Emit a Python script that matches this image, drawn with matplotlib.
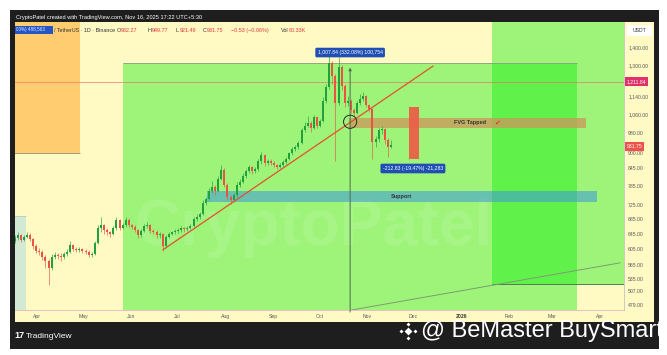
import datetime as dt
import numpy as np
import matplotlib
matplotlib.use("Agg")
import matplotlib.pyplot as plt
import matplotlib.dates as mdates
from matplotlib.patches import Rectangle
from matplotlib.ticker import NullLocator

plt.rcParams['font.family'] = ['Liberation Sans', 'DejaVu Sans']

W, H = 667, 355

# ---------------- data (BNB / TetherUS, 2-day candles) ----------------
candle_start = dt.datetime(2025, 3, 17, 12)
candle_step_days = 2
first_open = 625.0
closes = [632, 640, 628, 636, 642, 630, 612, 600, 598, 585,
          575, 560, 585, 590, 588, 584, 592, 598, 615, 606,
          603, 604, 600, 598, 590, 593, 620, 660, 668, 655,
          648, 643, 660, 683, 660, 668, 683, 668, 663, 655,
          640, 652, 665, 669, 652, 650, 640, 643, 612, 637,
          645, 648, 652, 655, 660, 656, 660, 666, 685, 692,
          700, 733, 745, 770, 783, 770, 810, 840, 790, 750,
          742, 757, 790, 800, 820, 835, 850, 835, 842, 870,
          893, 864, 872, 864, 858, 850, 858, 868, 880, 900,
          917, 925, 940, 990, 1010, 1020, 1000, 1045, 1010, 1030,
          1120, 1185, 1310, 1240, 1110, 1290, 1190, 1110, 1120, 1077,
          1065, 1110, 1130, 1140, 1100, 1080, 945, 955, 990, 995,
          950, 923, 931.75]
highs = [640, 648, 645, 641, 650, 646, 634, 618, 608, 602,
         590, 580, 592, 598, 596, 594, 598, 605, 625, 618,
         610, 610, 608, 605, 602, 598, 625, 668, 692, 672,
         660, 652, 666, 690, 686, 675, 692, 688, 672, 667,
         658, 657, 670, 676, 672, 658, 654, 648, 646, 642,
         650, 653, 657, 660, 665, 664, 666, 672, 690, 698,
         706, 740, 752, 778, 802, 790, 818, 858, 845, 795,
         756, 764, 798, 808, 828, 842, 858, 855, 850, 878,
         905, 896, 880, 878, 870, 862, 864, 874, 886, 906,
         924, 932, 948, 1000, 1025, 1050, 1030, 1055, 1050, 1040,
         1135, 1200, 1350, 1320, 1250, 1345, 1300, 1200, 1140, 1128,
         1085, 1120, 1150, 1160, 1148, 1105, 1085, 968, 1000, 1010,
         1000, 958, 949.77]
lows = [620, 628, 622, 624, 632, 625, 606, 594, 590, 578,
        560, 520, 555, 580, 580, 576, 580, 588, 594, 600,
        597, 598, 594, 592, 585, 586, 590, 618, 650, 645,
        640, 636, 640, 655, 654, 656, 664, 662, 656, 648,
        634, 636, 648, 660, 646, 644, 634, 632, 600, 608,
        632, 640, 644, 647, 650, 650, 652, 656, 662, 680,
        686, 696, 726, 740, 762, 758, 765, 805, 782, 742,
        728, 736, 752, 784, 795, 812, 828, 826, 828, 836,
        862, 855, 856, 856, 850, 842, 845, 852, 862, 874,
        894, 910, 918, 935, 982, 1002, 985, 995, 1000, 1002,
        1025, 1110, 1175, 1200, 870, 1100, 1170, 1090, 1095, 1065,
        1050, 1058, 1100, 1120, 1090, 1070, 880, 925, 945, 975,
        935, 887, 921.49]

price_ticks = [1400, 1300, 1140, 1060, 980, 900, 845, 785, 725, 685,
               645, 605, 565, 535, 507, 479]
month_starts = ["2025-04-01", "2025-05-01", "2025-06-01", "2025-07-01",
                "2025-08-01", "2025-09-01", "2025-10-01", "2025-11-01",
                "2025-12-01", "2026-01-01", "2026-02-01", "2026-03-01",
                "2026-04-01"]
month_labels = ["Apr", "May", "Jun", "Jul", "Aug", "Sep", "Oct", "Nov",
                "Dec", "2026", "Feb", "Mar", "Apr"]

level_price = 1211.84
last_price = 931.75
x_range = ("2025-03-17 18:00", "2026-04-16 13:00")
y_range = (469.4, 1553)

# drawn zones: (x0, x1, p0, p1)
orange_zone = ("2025-03-01", "2025-04-28 21:00", 901, 3000)
teal_strip = ("2025-03-01", "2025-03-24 22:00", 300, 694)
green_zone_a = ("2025-05-26 18:00", "2026-03-17 02:00", 300, 1310)
green_zone_c = ("2026-01-20 17:00", "2026-06-01", 523, 3000)
fvg_zone = ("2025-10-20 07:00", "2026-03-23", 1000, 1042)
red_block = ("2025-11-28 05:00", "2025-12-04 14:00", 880, 1090)
support_zone = ("2025-07-20", "2026-03-30", 736, 768)
trend_line = (("2025-06-21 17:00", 603), ("2025-12-13 17:00", 1293))
lower_line = (("2025-10-22", 469.4), ("2026-04-14", 571))
measure_date = "2025-10-21"
measure_top = 1300
circle_price = 1026
top_label = ("1,007.84 (332.08%) 100,754", "2025-10-21", 1368)
bottom_label = ("-212.83 (-19.47%) -21,283", "2025-11-30 17:00", 845)
fvg_text = ("FVG Tapped", "2026-01-07", 1021)
check_pos = ("2026-01-24", 1024)
support_text = ("Support", "2025-11-23", 752)


def d(s):
    return mdates.date2num(dt.datetime.fromisoformat(s))


# ---------------- figure ----------------
fig = plt.figure(figsize=(W / 100, H / 100), dpi=100)
fig.patch.set_facecolor("white")

bg = fig.add_axes([0, 0, 1, 1])
bg.set_xlim(0, W); bg.set_ylim(H, 0); bg.axis("off"); bg.set_zorder(0)
bg.add_patch(Rectangle((10, 10), 649, 339, fc="#1e1e1e", ec="none"))
bg.add_patch(Rectangle((15, 22), 639, 300, fc="#fff9c4", ec="none"))

ax = fig.add_axes([15 / W, (H - 310) / H, 609 / W, 288 / H])
ax.set_zorder(2)
ax.set_facecolor("#fff9c4")
ax.set_yscale("log")
ax.set_xlim(d(x_range[0]), d(x_range[1]))
ax.set_ylim(*y_range)

# zones
def zone(z, **kw):
    x0, x1 = d(z[0]), d(z[1])
    ax.add_patch(Rectangle((x0, z[2]), x1 - x0, z[3] - z[2], **kw))

zone(orange_zone, fc="#ffcc70", ec="none", zorder=1)
ax.hlines(orange_zone[2], d(orange_zone[0]), d(orange_zone[1]), color="#8f8a70", lw=0.6, zorder=1.1)
zone(teal_strip, fc="#d2ead3", ec="none", zorder=1)
ax.hlines(teal_strip[3], d(teal_strip[0]), d(teal_strip[1]), color="#b5cfbb", lw=0.6, zorder=1.1)
zone(green_zone_a, fc=(0, 238 / 255, 0), alpha=0.38, ec="none", zorder=1)
ax.hlines(green_zone_a[3], d(green_zone_a[0]), d(green_zone_a[1]), color="#8c9c86", lw=0.6, zorder=1.1)
zone(green_zone_c, fc=(0, 238 / 255, 0), alpha=0.38, ec="none", zorder=1)
ax.hlines(green_zone_c[2], d(green_zone_c[0]), d(green_zone_c[1]), color="#4f7d52", lw=0.7, zorder=1.1)

# watermark
ax.text(0.49, 0.285, "CryptoPatel", transform=ax.transAxes, fontsize=46,
        color="white", alpha=0.1, ha="center", va="center", fontweight="bold", zorder=1.2)

ax.axhline(level_price, color="#ee6a6a", lw=0.6, alpha=0.75, zorder=1.3)

zone(support_zone, fc=(60 / 255, 150 / 255, 220 / 255), alpha=0.55, ec="none", zorder=1.4)
zone(fvg_zone, fc="#cd965a", alpha=0.75, ec="none", zorder=1.4)
zone(red_block, fc="#eb5f47", alpha=0.95, ec="none", zorder=1.5)

ax.plot([d(lower_line[0][0]), d(lower_line[1][0])], [lower_line[0][1], lower_line[1][1]],
        color="#7d9c72", lw=0.7, zorder=1.6)

# candles
n = len(closes)
xs = np.array([mdates.date2num(candle_start + dt.timedelta(days=candle_step_days * i)) for i in range(n)])
c = np.array(closes, dtype=float)
o = np.concatenate([[first_open], c[:-1]])
hi = np.array(highs, dtype=float)
lo = np.array(lows, dtype=float)
up = c >= o
cols = np.where(up, "#22a03e", "#ea5244")
ax.vlines(xs, lo, hi, colors=cols, lw=0.45, zorder=3)
bot = np.minimum(o, c)
hgt = np.maximum(np.abs(c - o), bot * 0.003)
ax.bar(xs, hgt, bottom=bot, width=1.3, color=cols, edgecolor="none", zorder=3.1)

# trend line
ax.plot([d(trend_line[0][0]), d(trend_line[1][0])], [trend_line[0][1], trend_line[1][1]],
        color="#e4502e", lw=0.9, zorder=3.5)

# measure vertical line with arrow
ax.annotate("", xy=(d(measure_date), measure_top), xytext=(d(measure_date), y_range[0] * 0.98),
            arrowprops=dict(arrowstyle="-|>", color="#4d6b52", lw=0.7, mutation_scale=4),
            zorder=3.6, annotation_clip=False)
ax.scatter([d(measure_date)], [circle_price], s=90, facecolors="none", edgecolors="#2a2a2a",
           linewidths=0.7, zorder=3.7)

for txt, xd, yp in (top_label, bottom_label):
    ax.text(d(xd), yp, txt, ha="center", va="center", fontsize=3.7, color="white", zorder=4,
            bbox=dict(boxstyle="round,pad=0.45,rounding_size=0.3", fc="#1f4fb5", ec="none"))

ax.text(d(fvg_text[1]), fvg_text[2], fvg_text[0], ha="center", va="center", fontsize=4,
        color="#333333", fontweight="bold", zorder=4)
ax.text(d(check_pos[0]), check_pos[1], "\u2714", ha="center", va="center", fontsize=5,
        color="#e53935", zorder=4, family=["DejaVu Sans"])
ax.text(d(support_text[1]), support_text[2], support_text[0], ha="center", va="center",
        fontsize=4, color="#333333", fontweight="bold", zorder=4)

# axes styling
for s in ("left", "top"):
    ax.spines[s].set_visible(False)
ax.spines["right"].set_color("#c4c4c4"); ax.spines["right"].set_linewidth(0.6)
ax.spines["bottom"].set_color("#e5b7c2"); ax.spines["bottom"].set_linewidth(0.6)
ax.yaxis.tick_right()
ax.yaxis.set_minor_locator(NullLocator())
ax.set_yticks(price_ticks)
ax.set_yticklabels([f"{v:,.2f}" for v in price_ticks])
ax.tick_params(axis="y", length=0, pad=3, labelsize=3.7, labelcolor="#5a5a5a")
ax.set_xticks([d(m) for m in month_starts])
ax.set_xticklabels(month_labels)
ax.xaxis.set_minor_locator(NullLocator())
ax.tick_params(axis="x", length=0, pad=3, labelsize=3.7, labelcolor="#5a5a5a")
for lbl in ax.get_xticklabels():
    if lbl.get_text() == "2026":
        lbl.set_fontweight("bold")
        lbl.set_color("#333333")

ytr = ax.get_yaxis_transform()
ax.text(1.004, level_price, f"{level_price:,.2f}", transform=ytr, ha="left", va="center",
        fontsize=3.7, color="white", zorder=5, clip_on=False,
        bbox=dict(boxstyle="square,pad=0.35", fc="#e0306a", ec="none"))
ax.text(1.004, 926, f"{last_price:,.2f}", transform=ytr, ha="left", va="center",
        fontsize=3.7, color="white", zorder=5, clip_on=False,
        bbox=dict(boxstyle="square,pad=0.35", fc="#f0524a", ec="none"))

# ---------------- foreground texts ----------------
fg = fig.add_axes([0, 0, 1, 1])
fg.set_xlim(0, W); fg.set_ylim(H, 0); fg.axis("off"); fg.set_zorder(6)

fg.text(16, 17, "CryptoPatel created with TradingView.com, Nov 16, 2025 17:22 UTC+5:30",
        fontsize=4.1, color="white", va="center", ha="left")
fg.add_patch(Rectangle((15, 25.5), 38, 8, fc="#2456c4", ec="none"))
fg.text(16.5, 29.5, "00%) 488,563", fontsize=3.3, color="#dfe8ff", va="center", ha="left")
fg.text(54.5, 30.5, "/ TetherUS \u00b7 1D \u00b7 Binance", fontsize=3.9, color="#333333", va="center")
ohlc = [("O", "932.27", 117), ("H", "949.77", 148), ("L", "921.49", 176), ("C", "931.75", 203)]
for k, v, px in ohlc:
    fg.text(px, 30.5, k, fontsize=3.9, color="#333333", va="center")
    fg.text(px + 3.4, 30.5, v, fontsize=3.9, color="#e53935", va="center")
fg.text(231, 30.5, "\u22120.53 (\u22120.06%)", fontsize=3.9, color="#e53935", va="center")
fg.text(281, 30.5, "Vol", fontsize=3.9, color="#333333", va="center")
fg.text(288.5, 30.5, "80.33K", fontsize=3.9, color="#e53935", va="center")

fg.add_patch(Rectangle((627, 25), 25, 11, fc="white", ec="none"))
fg.text(639.5, 30.5, "USDT", fontsize=3.7, color="#333333", ha="center", va="center")

fg.text(14, 336, "17", fontsize=6.5, color="white", fontweight="bold", va="center")
fg.text(26, 336, "TradingView", fontsize=6, color="white", va="center")

fg.scatter([408], [331], marker="D", s=16, c="white", linewidths=0)
fg.scatter([401, 415, 408, 408], [331, 331, 324, 338], marker="D", s=4, c="white", linewidths=0)
fg.text(421, 331, "@ BeMaster BuySmart", fontsize=17, color="white", va="center", ha="left")

fig.savefig("out.png", dpi=100, facecolor=fig.get_facecolor())
